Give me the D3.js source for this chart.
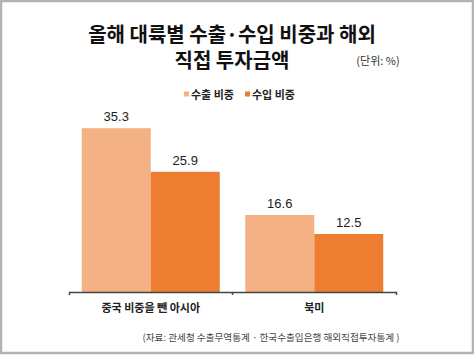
<!DOCTYPE html>
<html><head><meta charset="utf-8">
<script src="https://cdn.jsdelivr.net/npm/d3@7"></script>
<style>
html,body{margin:0;padding:0;background:#fff;}
svg{display:block;}
</style></head>
<body><svg id="c" width="474" height="355"></svg>
<script>
const categories = ["중국 비중을 뺀 아시아", "북미"];
const seriesNames = ["수출 비중", "수입 비중"];
const exportShare = [35.3, 16.6];
const importShare = [25.9, 12.5];
const colors = ["#F4B183", "#ED7D31"];
const titleLines = ["올해 대륙별 수출·수입 비중과 해외", "직접 투자금액"];
const unitText = "(단위: %)";
const sourceText = "(자료: 관세청 수출무역통계 · 한국수출입은행 해외직접투자통계 )";

const KR = "'Noto Sans CJK KR', 'Noto Sans', sans-serif";
const NUM = "'Liberation Sans', Arial, sans-serif";
const svg = d3.select("#c");

// frame
svg.append("rect").attr("x",1).attr("y",1).attr("width",472).attr("height",352)
  .attr("fill","#fff").attr("stroke","#b3b3b3").attr("stroke-width",2.5);

// title (one text element, two lines)
const title = svg.append("text").attr("text-anchor","middle")
  .style("font-family",KR).style("font-weight","700").style("font-size","20px")
  .attr("fill","#111");
title.selectAll("tspan").data(titleLines).enter().append("tspan")
  .attr("x",232).attr("y",(d,i)=>42+i*25.5).text(d=>d);

svg.append("text").attr("x",378).attr("y",60).attr("text-anchor","middle")
  .attr("dominant-baseline","central")
  .style("font-family",KR).style("font-size","11px").attr("fill","#333").text(unitText);

// legend
const legX = [184, 245];
const leg = svg.selectAll("g.leg").data(seriesNames).enter().append("g").attr("class","leg");
leg.append("rect").attr("x",(d,i)=>legX[i]).attr("y",91.5).attr("width",5).attr("height",5)
  .attr("fill",(d,i)=>colors[i]);
leg.append("text").attr("x",(d,i)=>legX[i]+7).attr("y",94).attr("dominant-baseline","central")
  .style("font-family",KR).style("font-weight","700").style("font-size","11px")
  .attr("fill","#222").text(d=>d);

// scales
const x = d3.scaleBand().domain(categories).range([69, 396]).padding(0);
const x1 = d3.scaleBand().domain(seriesNames).range([0, x.bandwidth()]).paddingInner(0).paddingOuter(0.185);
const y = d3.scaleLinear().domain([0, 40]).range([292, 106.4]);

const data = categories.map((c,i)=>({cat:c, vals:[exportShare[i], importShare[i]]}));

const g = svg.selectAll("g.grp").data(data).enter().append("g").attr("class","grp")
  .attr("transform",d=>`translate(${x(d.cat)},0)`);
g.selectAll("rect").data(d=>d.vals.map((v,j)=>({s:seriesNames[j], v, j}))).enter().append("rect")
  .attr("x",d=>x1(d.s)).attr("width",x1.bandwidth())
  .attr("y",d=>y(d.v)).attr("height",d=>y(0)-y(d.v)).attr("fill",d=>colors[d.j]);
g.selectAll("text").data(d=>d.vals.map((v,j)=>({s:seriesNames[j], v, j}))).enter().append("text")
  .attr("x",d=>x1(d.s)+x1.bandwidth()/2).attr("y",d=>y(d.v)-7)
  .attr("text-anchor","middle").style("font-family",NUM).style("font-size","13px")
  .attr("fill","#222").text(d=>d.v.toFixed(1));

// axis
const ax = svg.append("g").attr("transform",`translate(0,${y(0)})`)
  .call(d3.axisBottom(x).tickSize(0).tickSizeOuter(3).tickPadding(12));
ax.select(".domain").attr("stroke","#444").attr("stroke-width",1.5);
ax.selectAll(".tick text").style("font-family",KR).style("font-weight","700")
  .style("font-size","11px").attr("fill","#222");
// category boundary tick
ax.append("line").attr("x1",x(categories[1])).attr("x2",x(categories[1]))
  .attr("y1",0).attr("y2",3).attr("stroke","#444").attr("stroke-width",1.5);

// source
svg.append("text").attr("x",271).attr("y",337).attr("text-anchor","middle")
  .attr("dominant-baseline","central")
  .style("font-family",KR).style("font-size","9.6px").attr("fill","#444").text(sourceText);
</script></body></html>
